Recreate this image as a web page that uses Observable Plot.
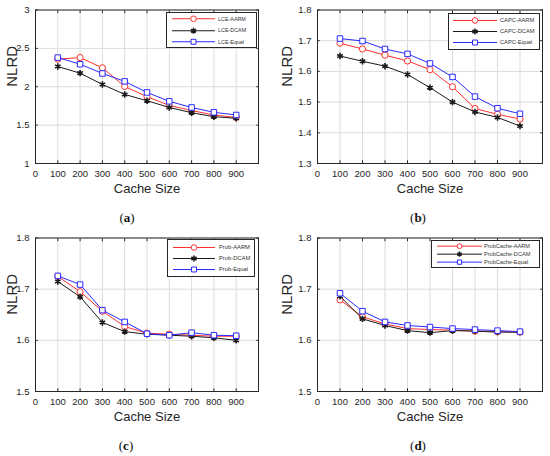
<!DOCTYPE html>
<html>
<head>
<meta charset="utf-8">
<script src="https://cdn.jsdelivr.net/npm/d3@7"></script>
<script src="https://cdn.jsdelivr.net/npm/@observablehq/plot@0.6"></script>
<style>
  body { margin: 0; background: #fff; font-family: "Liberation Sans", Arial, sans-serif; }
  #figure { position: relative; width: 550px; height: 456px; overflow: hidden; }
  .panel { position: absolute; width: 275px; height: 228px; }
  .panel svg { position: absolute; left: 0; top: 0; }
  .legend { position: absolute; box-sizing: border-box; border: 1px solid #262626; background: #fff; color: #333; overflow: hidden; }
  .legend .row { display: flex; align-items: center; }
  .legend svg { position: static; display: block; flex: none; }
  .legend span { white-space: nowrap; flex: none; }
  .caption { position: absolute; font-family: "Liberation Serif", "Times New Roman", serif; font-size: 13px; color: #111; transform: translate(-50%, -50%); white-space: nowrap; }
</style>
</head>
<body>
<div id="figure"></div>
<script>
// x positions shared by all four panels
const cacheSizes = [100, 200, 300, 400, 500, 600, 700, 800, 900];
const xTicks = [0, 100, 200, 300, 400, 500, 600, 700, 800, 900];

// (a) LCE
const lceAarm  = [2.36, 2.38, 2.247, 2.004, 1.87, 1.757, 1.69, 1.632, 1.60];
const lceDcam  = [2.264, 2.177, 2.03, 1.90, 1.818, 1.73, 1.662, 1.61, 1.589];
const lceEqual = [2.38, 2.294, 2.173, 2.07, 1.926, 1.81, 1.73, 1.667, 1.632];
const lceTicks = [1, 1.5, 2, 2.5, 3];

// (b) CAPC
const capcAarm  = [1.692, 1.673, 1.653, 1.634, 1.606, 1.550, 1.479, 1.460, 1.445];
const capcDcam  = [1.650, 1.633, 1.617, 1.590, 1.547, 1.500, 1.468, 1.450, 1.422];
const capcEqual = [1.707, 1.699, 1.673, 1.657, 1.626, 1.582, 1.518, 1.480, 1.462];
const capcTicks = [1.3, 1.4, 1.5, 1.6, 1.7, 1.8];

// (c) Prob
const probAarm  = [1.725, 1.695, 1.657, 1.627, 1.614, 1.612, 1.610, 1.608, 1.608];
const probDcam  = [1.715, 1.685, 1.635, 1.617, 1.612, 1.610, 1.608, 1.605, 1.600];
const probEqual = [1.726, 1.709, 1.659, 1.636, 1.613, 1.610, 1.615, 1.610, 1.609];
const probTicks = [1.5, 1.6, 1.7, 1.8];

// (d) ProbCache
const pcAarm  = [1.679, 1.646, 1.632, 1.623, 1.621, 1.620, 1.618, 1.617, 1.616];
const pcDcam  = [1.686, 1.642, 1.629, 1.619, 1.615, 1.619, 1.618, 1.616, 1.616];
const pcEqual = [1.692, 1.657, 1.636, 1.629, 1.626, 1.623, 1.621, 1.619, 1.617];

// style of the three series (AARM, DCAM, Equal)
const seriesColors  = ["#ff3030", "#1a1a1a", "#2a2aff"];
const seriesSymbols = ["circle", "asterisk", "square"];

const panels = [
  {id: "a", prefix: "LCE",       values: [lceAarm, lceDcam, lceEqual],    ticks: lceTicks,  left: 0,   top: 0,
   mL: 35, mR: 17, capX: 127, leg: {x: 166, y: 12, w: 91,  h: 36, pad: 6, line: 43, gap: 3, row: 11.5, font: 5.4}},
  {id: "b", prefix: "CAPC",      values: [capcAarm, capcDcam, capcEqual], ticks: capcTicks, left: 275, top: 0,
   mL: 42, mR: 8,  capX: 143, leg: {x: 173, y: 12.5, w: 92, h: 37, pad: 5, line: 44, gap: 3, row: 11, font: 5.7}},
  {id: "c", prefix: "Prob",      values: [probAarm, probDcam, probEqual], ticks: probTicks, left: 0,   top: 228,
   mL: 35, mR: 17, capX: 126, leg: {x: 167, y: 11.3, w: 88, h: 38, pad: 6, line: 42, gap: 4, row: 11, font: 5.8}},
  {id: "d", prefix: "ProbCache", values: [pcAarm, pcDcam, pcEqual],       ticks: probTicks, left: 275, top: 228,
   mL: 42, mR: 8,  capX: 143, leg: {x: 156, y: 12,   w: 109, h: 28, pad: 6, line: 45, gap: 2, row: 8.3, font: 5.6}}
];

const figure = document.getElementById("figure");

function symbolPath(name, r) {
  const sym = {circle: d3.symbolCircle, asterisk: d3.symbolAsterisk, square: d3.symbolSquare}[name];
  return d3.symbol(sym, Math.PI * r * r)();
}

for (const p of panels) {
  const names = ["AARM", "DCAM", "Equal"].map(s => `${p.prefix}-${s}`);
  const rows = [];
  p.values.forEach((vals, i) => vals.forEach((v, j) => rows.push({series: names[i], size: cacheSizes[j], value: v})));

  const seriesMarks = [];
  names.forEach((name, i) => {
    const data = rows.filter(d => d.series === name);
    seriesMarks.push(Plot.line(data, {x: "size", y: "value", stroke: seriesColors[i], strokeWidth: 1}));
    seriesMarks.push(Plot.dot(data, {
      x: "size", y: "value",
      symbol: () => seriesSymbols[i],
      stroke: seriesColors[i],
      fill: seriesSymbols[i] === "asterisk" ? "none" : "white",
      strokeWidth: seriesSymbols[i] === "asterisk" ? 1.6 : 1,
      r: seriesSymbols[i] === "asterisk" ? 3 : 3.1
    }));
  });

  const yFmt = d => String(+d.toFixed(1));

  const chart = Plot.plot({
    width: 275,
    height: 200,
    marginTop: 9.5,
    marginBottom: 37,
    marginLeft: p.mL,
    marginRight: p.mR,
    style: {fontFamily: "'Liberation Sans', Arial, sans-serif", color: "#262626", background: "#fff"},
    x: {domain: [0, 1000]},
    y: {domain: d3.extent(p.ticks)},
    symbol: {domain: seriesSymbols, range: seriesSymbols},
    marks: [
      Plot.gridX(cacheSizes, {stroke: "#dcdcdc", strokeOpacity: 1}),
      Plot.gridY(p.ticks, {stroke: "#dcdcdc", strokeOpacity: 1}),
      Plot.axisX(xTicks, {anchor: "bottom", tickSize: 0, tickPadding: 7, fontSize: 9.5, label: null}),
      Plot.axisX(xTicks, {anchor: "bottom", tickSize: -2.7, text: null, label: null}),
      Plot.axisX(xTicks, {anchor: "top", tickSize: -2.7, text: null, label: null}),
      Plot.axisY(p.ticks, {anchor: "left", tickSize: 0, tickPadding: 6, fontSize: 9.5, tickFormat: yFmt, label: null}),
      Plot.axisY(p.ticks, {anchor: "left", tickSize: -2.7, text: null, label: null}),
      Plot.axisY(p.ticks, {anchor: "right", tickSize: -2.7, text: null, label: null}),
      Plot.text(["Cache Size"], {frameAnchor: "bottom", dy: 29, fontSize: 13, fill: "#262626"}),
      Plot.text(["NLRD"], {frameAnchor: "left", rotate: -90, dx: -(p.mL - 12), fontSize: 15, fill: "#262626"}),
      ...seriesMarks,
      Plot.frame({stroke: "#262626", strokeWidth: 1})
    ]
  });

  const panel = document.createElement("div");
  panel.className = "panel";
  panel.style.left = p.left + "px";
  panel.style.top = p.top + "px";
  panel.appendChild(chart);

  // legend box inside the axes, top-right (as MATLAB draws it)
  const L = p.leg;
  const legend = document.createElement("div");
  legend.className = "legend";
  Object.assign(legend.style, {left: L.x + "px", top: L.y + "px", width: L.w + "px", height: L.h + "px",
    paddingTop: ((L.h - 3 * L.row) / 2 - 1) + "px", fontSize: L.font + "px"});
  names.forEach((name, i) => {
    const row = document.createElement("div");
    row.className = "row";
    row.style.height = L.row + "px";
    row.style.paddingLeft = (L.pad - 1) + "px";
    const sw = d3.create("svg").attr("width", L.line).attr("height", L.row);
    sw.append("line").attr("x1", 0).attr("x2", L.line).attr("y1", L.row / 2).attr("y2", L.row / 2)
      .attr("stroke", seriesColors[i]).attr("stroke-width", 1);
    const isStar = seriesSymbols[i] === "asterisk";
    sw.append("path").attr("d", symbolPath(seriesSymbols[i], L.row > 10 ? 2.8 : 2.4))
      .attr("transform", `translate(${L.line / 2},${L.row / 2})`)
      .attr("stroke", seriesColors[i]).attr("fill", isStar ? "none" : "white")
      .attr("stroke-width", isStar ? 1.5 : 1);
    const label = document.createElement("span");
    label.textContent = name;
    label.style.marginLeft = L.gap + "px";
    row.appendChild(sw.node());
    row.appendChild(label);
    legend.appendChild(row);
  });
  panel.appendChild(legend);

  const cap = document.createElement("div");
  cap.className = "caption";
  cap.style.left = p.capX + "px";
  cap.style.top = "218px";
  cap.innerHTML = `(<b>${p.id}</b>)`;
  panel.appendChild(cap);

  figure.appendChild(panel);
}
</script>
</body>
</html>
